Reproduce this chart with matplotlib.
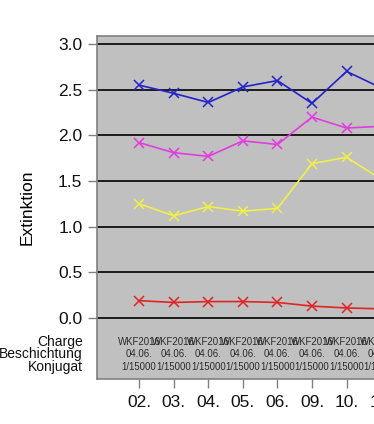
import matplotlib
matplotlib.use("Agg")
import matplotlib.pyplot as plt

plt.rcParams['font.family'] = ['Liberation Sans', 'DejaVu Sans']

# ---- data ----
days = ["02.", "03.", "04.", "05.", "06.", "09.", "10.", "11."]
charge = ["WKF2016"] * 8
beschichtung = ["04.06."] * 8
konjugat = ["1/15000"] * 8
row_labels = ["Charge", "Beschichtung", "Konjugat"]

blue = [2.55, 2.46, 2.36, 2.53, 2.60, 2.35, 2.70, 2.52]
magenta = [1.92, 1.81, 1.77, 1.94, 1.90, 2.20, 2.08, 2.10]
yellow = [1.25, 1.12, 1.22, 1.17, 1.20, 1.69, 1.76, 1.52]
red = [0.19, 0.17, 0.18, 0.18, 0.17, 0.13, 0.11, 0.10]

series = [(blue, "#2323c8"), (magenta, "#e03ce0"), (yellow, "#f0f048"), (red, "#e02424")]
yticks = [0.0, 0.5, 1.0, 1.5, 2.0, 2.5, 3.0]

W, H = 374, 424
fig = plt.figure(figsize=(W / 100, H / 100), dpi=100)

# axes geometry in pixels (axes extends past the right edge of the image)
left_px, top_px, bottom_px, right_px = 97, 36, 379, 433
ax = fig.add_axes([left_px / W, 1 - bottom_px / H, (right_px - left_px) / W, (bottom_px - top_px) / H])
ax.set_facecolor("#c0c0c0")

x = list(range(len(days)))
ax.set_xlim(-1.22, 8.5)
ax.set_ylim(-0.668, 3.088)

for v in yticks:
    ax.axhline(v, color="black", lw=1.2, zorder=1)

for vals, col in series:
    ax.plot(x, vals, color=col, lw=1.2, marker="x", ms=6.5, mew=1.1, zorder=3)

ax.set_yticks(yticks)
ax.set_yticklabels([f"{v:.1f}" for v in yticks], fontsize=12.5, color="#111111")
ax.set_xticks(x)
ax.set_xticklabels(days, fontsize=12.5, color="#111111")
ax.tick_params(axis="y", length=6.5, width=1, color="#808080", pad=4)
ax.tick_params(axis="x", length=6.5, width=1, color="#808080", pad=5)

for s in ["left", "top", "bottom"]:
    ax.spines[s].set_color("#808080")
    ax.spines[s].set_linewidth(1.2)
ax.spines["right"].set_visible(False)

ax.set_ylabel("Extinktion", fontsize=12.5, labelpad=17)

# table rows inside the axes
row_y = [-0.263, -0.394, -0.537]
for ry, row in zip(row_y, [charge, beschichtung, konjugat]):
    for xi, t in zip(x, row):
        ax.text(xi, ry, t, ha="center", va="center", fontsize=6.9, color="#2a2a2a", zorder=4)

for ry, lab in zip(row_y, row_labels):
    ypix = ax.transData.transform((0, ry))[1]
    fig.text(83 / W, ypix / H, lab, ha="right", va="center", fontsize=10, color="#111111")

fig.savefig("out.png", dpi=100)
